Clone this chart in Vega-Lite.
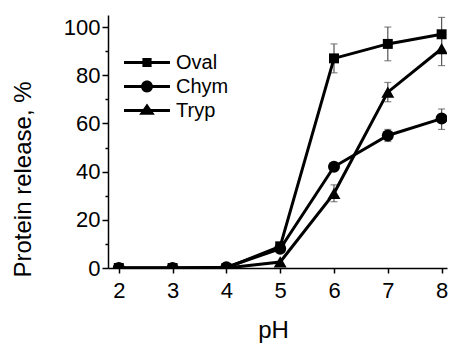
{
  "$schema": "https://vega.github.io/schema/vega-lite/v6.json",
  "width": 339,
  "height": 253,
  "autosize": "none",
  "padding": {"left": 108, "top": 15, "right": 27, "bottom": 87},
  "background": "white",
  "config": {"view": {"stroke": null}, "font": "Liberation Sans"},
  "datasets": {
    "pts": [
      {"pH": 2, "series": "Oval", "value": 0},
      {"pH": 3, "series": "Oval", "value": 0},
      {"pH": 4, "series": "Oval", "value": 0},
      {"pH": 5, "series": "Oval", "value": 9},
      {"pH": 6, "series": "Oval", "value": 87},
      {"pH": 7, "series": "Oval", "value": 93},
      {"pH": 8, "series": "Oval", "value": 97},
      {"pH": 2, "series": "Chym", "value": 0},
      {"pH": 3, "series": "Chym", "value": 0},
      {"pH": 4, "series": "Chym", "value": 0.3},
      {"pH": 5, "series": "Chym", "value": 8},
      {"pH": 6, "series": "Chym", "value": 42},
      {"pH": 7, "series": "Chym", "value": 55},
      {"pH": 8, "series": "Chym", "value": 62},
      {"pH": 2, "series": "Tryp", "value": 0},
      {"pH": 3, "series": "Tryp", "value": 0},
      {"pH": 4, "series": "Tryp", "value": 0},
      {"pH": 5, "series": "Tryp", "value": 2.5},
      {"pH": 6, "series": "Tryp", "value": 31},
      {"pH": 7, "series": "Tryp", "value": 73},
      {"pH": 8, "series": "Tryp", "value": 91}
    ],
    "err": [
      {"pH": 6, "series": "Oval", "value": 81, "hi": 93},
      {"pH": 7, "series": "Oval", "value": 86, "hi": 100},
      {"pH": 8, "series": "Oval", "value": 90, "hi": 104},
      {"pH": 7, "series": "Chym", "value": 52.5, "hi": 57.5},
      {"pH": 8, "series": "Chym", "value": 57.5, "hi": 66},
      {"pH": 6, "series": "Tryp", "value": 27.5, "hi": 34.5},
      {"pH": 7, "series": "Tryp", "value": 69, "hi": 77},
      {"pH": 8, "series": "Tryp", "value": 84, "hi": 98}
    ]
  },
  "encoding": {
    "x": {
      "field": "pH", "type": "quantitative",
      "scale": {"domain": [1.8, 8.1], "nice": false, "zero": false},
      "axis": {
        "orient": "bottom",
        "values": [2, 2.5, 3, 3.5, 4, 4.5, 5, 5.5, 6, 6.5, 7, 7.5, 8],
        "format": "d",
        "labelExpr": "datum.value % 1 == 0 ? datum.label : ''",
        "tickSize": {"condition": {"test": "datum.value % 1 != 0", "value": 3}, "value": 5},
        "tickColor": "black", "tickWidth": 1.5,
        "domainColor": "black", "domainWidth": 1.5,
        "labelFontSize": 22, "labelColor": "black", "labelPadding": 7,
        "labelFont": "Liberation Sans",
        "grid": false,
        "title": "pH", "titleFontSize": 24, "titleFontWeight": "normal", "titleColor": "black",
        "titleFont": "Liberation Sans",
        "titleX": 165, "titleY": 69, "titleBaseline": "alphabetic"
      }
    },
    "y": {
      "field": "value", "type": "quantitative",
      "scale": {"domain": [0, 105], "nice": false},
      "axis": {
        "orient": "left",
        "values": [0, 10, 20, 30, 40, 50, 60, 70, 80, 90, 100],
        "format": "d",
        "labelExpr": "datum.value % 20 == 0 ? datum.label : ''",
        "tickSize": {"condition": {"test": "datum.value % 20 != 0", "value": 3}, "value": 6},
        "tickColor": "black", "tickWidth": 1.5,
        "domainColor": "black", "domainWidth": 1.5,
        "labelFontSize": 22, "labelColor": "black", "labelPadding": 2,
        "labelFont": "Liberation Sans",
        "grid": false,
        "title": "Protein release, %", "titleFontSize": 24, "titleFontWeight": "normal", "titleColor": "black",
        "titleFont": "Liberation Sans",
        "titleX": -73, "titleY": 164
      }
    }
  },
  "resolve": {"scale": {"shape": "independent"}},
  "layer": [
    {
      "data": {"name": "err"},
      "mark": {"type": "errorbar", "color": "#555555", "ticks": {"size": 7, "thickness": 1.2}, "rule": {"strokeWidth": 1.2}},
      "encoding": {
        "y2": {"field": "hi"},
        "detail": {"field": "series"}
      }
    },
    {
      "data": {"name": "pts"},
      "mark": {"type": "line", "color": "black", "strokeWidth": 3, "clip": true},
      "encoding": {
        "detail": {"field": "series"}
      }
    },
    {
      "data": {"name": "pts"},
      "mark": {"type": "point", "filled": true, "color": "black", "opacity": 1, "clip": true, "size": 144},
      "encoding": {
        "shape": {
          "field": "series", "type": "nominal",
          "scale": {"domain": ["Oval", "Chym", "Tryp"], "range": ["M-0.83,-0.83H0.83V0.83H-0.83Z", "circle", "M0,-0.94L1.08,0.94H-1.08Z"]},
          "legend": null
        }
      }
    },
    {
      "data": {"name": "pts"},
      "transform": [{"filter": "false"}],
      "mark": {"type": "point", "filled": true, "color": "black", "opacity": 1, "size": 2116},
      "encoding": {
        "shape": {
          "field": "series", "type": "nominal",
          "scale": {"domain": ["Oval", "Chym", "Tryp"], "range": [
            "M-1,-0.065H1V0.065H-1ZM-0.2,-0.2H0.2V0.2H-0.2Z",
            "M-1,-0.065H1V0.065H-1ZM-0.26,0A0.26,0.26,0,1,1,0.26,0A0.26,0.26,0,1,1,-0.26,0Z",
            "M-1,-0.065H1V0.065H-1ZM0,-0.3L0.34,0.18H-0.34Z"
          ]},
          "legend": {
            "orient": "none", "legendX": 16, "legendY": 37,
            "title": null, "padding": 0, "rowPadding": 3, "clipHeight": 21,
            "labelFontSize": 20, "labelColor": "black", "labelFont": "Liberation Sans", "labelOffset": 6,
            "symbolSize": 2116, "symbolStrokeWidth": 0, "symbolFillColor": "black"
          }
        }
      }
    }
  ]
}
